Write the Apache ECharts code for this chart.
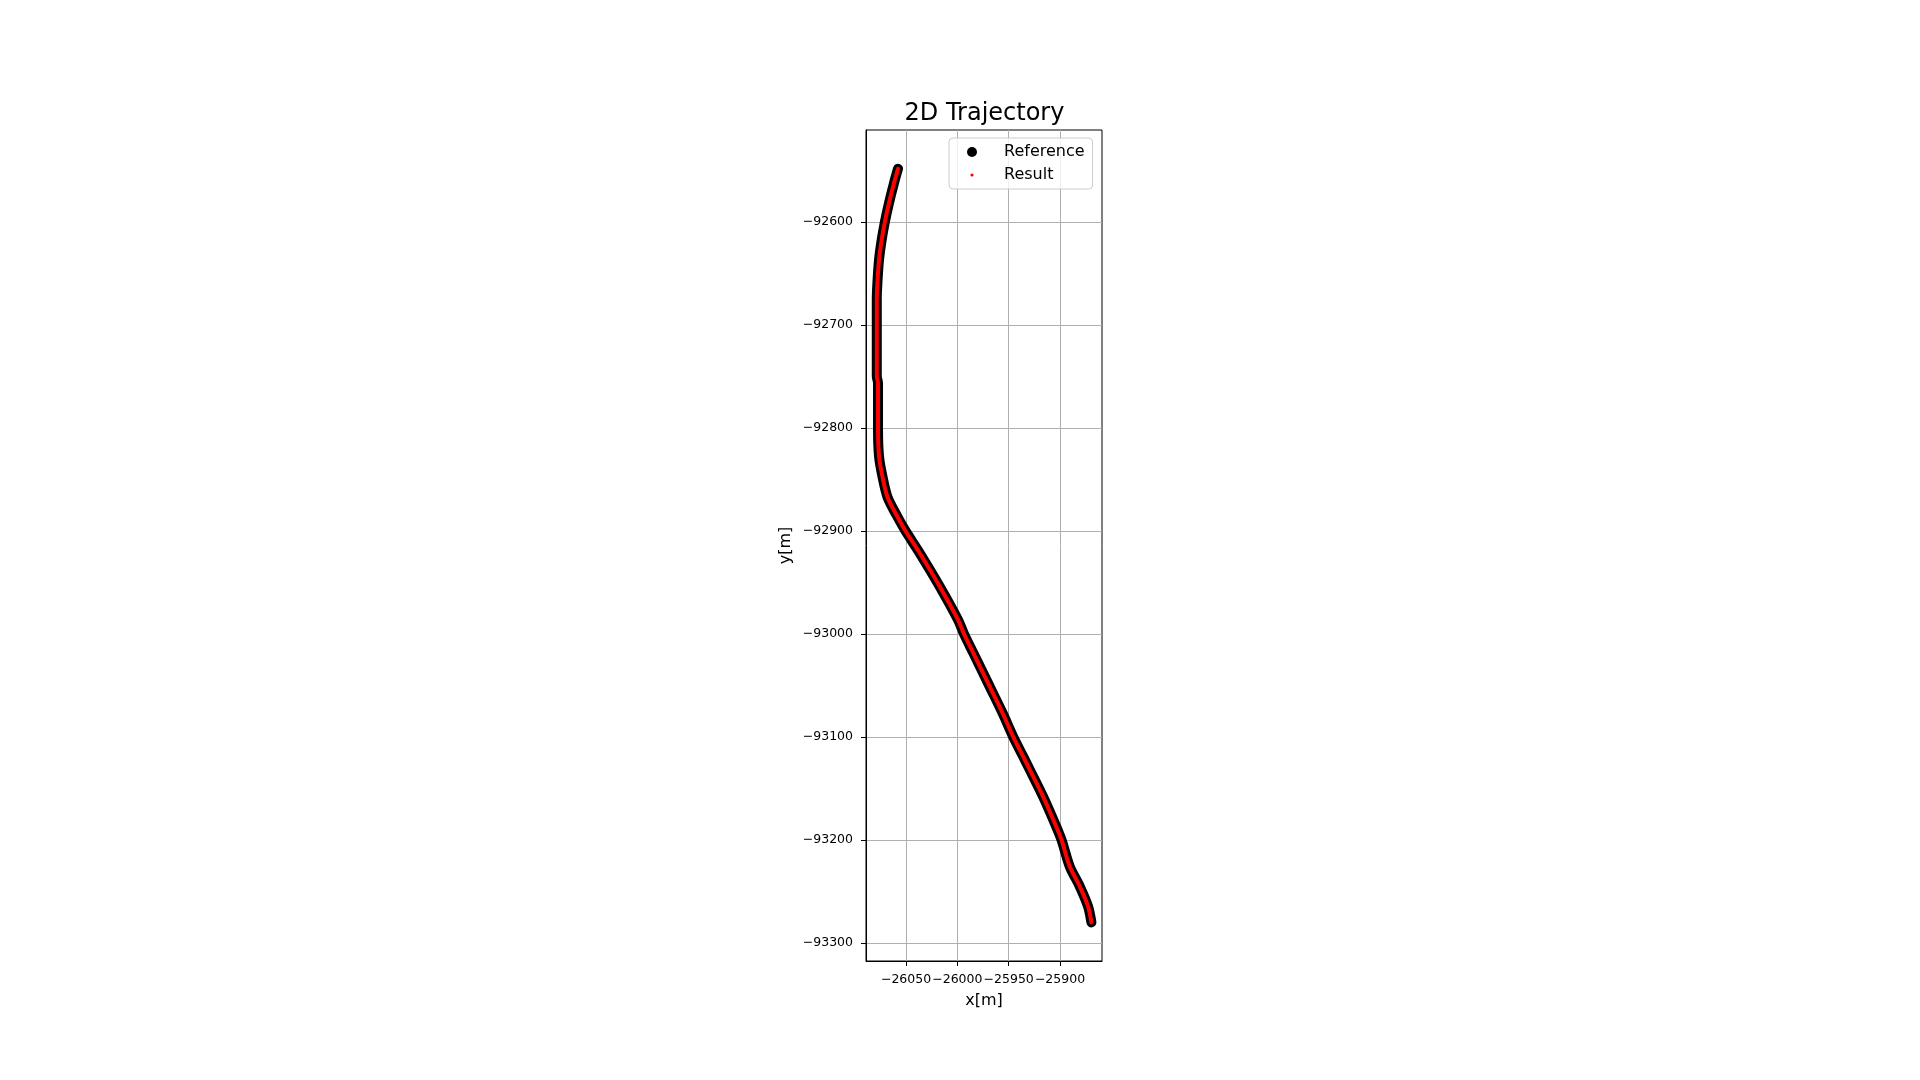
<!DOCTYPE html>
<html>
<head>
<meta charset="utf-8">
<script src="https://cdn.jsdelivr.net/npm/echarts@6/dist/echarts.min.js"></script>
<style>
html,body{margin:0;padding:0;background:#fff;}
#chart{width:1920px;height:1080px;}
</style>
</head>
<body>
<div id="chart"></div>
<script>
// Reference trajectory
const refX = [-26057.8,-26061.7,-26066.6,-26070.5,-26073.7,-26076.3,-26077.9,-26078.5,-26078.5,-26078.5,-26077.3,-26077.3,-26077.3,-26076.3,-26073.0,-26068.1,-26059.0,-26050.5,-26036.7,-26017.2,-25999.4,-25993.5,-25984.5,-25967.0,-25956.0,-25945.8,-25936.0,-25929.5,-25916.6,-25905.2,-25898.6,-25890.6,-25880.8,-25872.7,-25869.4];
const refY = [-92548.3,-92562.1,-92581.6,-92599.4,-92617.2,-92636.6,-92659.2,-92675.4,-92701.4,-92749.9,-92756.3,-92785.4,-92800.4,-92827.6,-92847.0,-92867.0,-92885.0,-92900.0,-92921.4,-92953.8,-92986.1,-93000.0,-93018.4,-93054.1,-93076.7,-93099.4,-93118.8,-93131.7,-93157.7,-93183.5,-93199.7,-93225.6,-93245.0,-93264.5,-93280.0];
// Result trajectory
const resX = [-26057.8,-26061.7,-26066.6,-26070.5,-26073.7,-26076.3,-26077.9,-26078.5,-26078.5,-26078.5,-26077.3,-26077.3,-26077.3,-26076.3,-26073.0,-26068.1,-26059.0,-26050.5,-26036.7,-26017.2,-25999.4,-25993.5,-25984.5,-25967.0,-25956.0,-25945.8,-25936.0,-25929.5,-25916.6,-25905.2,-25898.6,-25890.6,-25880.8,-25872.7,-25869.4];
const resY = [-92548.3,-92562.1,-92581.6,-92599.4,-92617.2,-92636.6,-92659.2,-92675.4,-92701.4,-92749.9,-92756.3,-92785.4,-92800.4,-92827.6,-92847.0,-92867.0,-92885.0,-92900.0,-92921.4,-92953.8,-92986.1,-93000.0,-93018.4,-93054.1,-93076.7,-93099.4,-93118.8,-93131.7,-93157.7,-93183.5,-93199.7,-93225.6,-93245.0,-93264.5,-93280.0];
const xTicks = [-26050,-26000,-25950,-25900];
const yTicks = [-93300,-93200,-93100,-93000,-92900,-92800,-92700,-92600];
const seriesNames = ['Reference','Result'];
const titleText = '2D Trajectory';
const xName = 'x[m]';
const yName = 'y[m]';

const FONT = 'DejaVu Sans';
const minusFmt = v => String(v).replace('-', '\u2212');
const refData = refX.map((x,i)=>[x, refY[i]]);
const resData = resX.map((x,i)=>[x, resY[i]]);

const chart = echarts.init(document.getElementById('chart'), null, {renderer:'canvas'});
chart.setOption({
  animation: false,
  backgroundColor: '#ffffff',
  textStyle: {fontFamily: FONT, color: '#000'},
  title: {
    text: titleText,
    left: 979.5,
    textAlign: 'center',
    top: 97,
    textStyle: {fontFamily: FONT, fontSize: 24, fontWeight: 'normal', color: '#000'}
  },
  legend: {
    orient: 'vertical',
    left: 949,
    top: 138,
    padding: [6, 8, 6, 18],
    itemGap: 7,
    itemWidth: 10,
    itemHeight: 10,
    backgroundColor: 'rgba(255,255,255,0.8)',
    borderColor: '#cccccc',
    borderWidth: 1,
    borderRadius: 4,
    itemStyle: {borderWidth: 0},
    textStyle: {fontFamily: FONT, fontSize: 16, lineHeight: 16, color: '#000', padding: [0, 0, 0, 22]},
    data: [
      {name: seriesNames[0], icon: 'circle'},
      {name: seriesNames[1], icon: 'path://M0 0 M10 10 M5 3.4 A1.6 1.6 0 1 1 5 6.6 A1.6 1.6 0 1 1 5 3.4 Z'}
    ]
  },
  grid: {
    left: 866, top: 130, width: 236, height: 831,
    show: true, borderColor: '#000', borderWidth: 1, backgroundColor: 'transparent',
    containLabel: false
  },
  xAxis: {
    type: 'value',
    min: -26089, max: -25859.1,
    name: xName,
    nameLocation: 'middle',
    nameGap: 32,
    nameTextStyle: {fontFamily: FONT, fontSize: 16, color: '#000'},
    axisLine: {show: true, onZero: false, lineStyle: {color: '#000', width: 1}},
    axisTick: {show: true, inside: false, length: 5, customValues: xTicks, lineStyle: {color: '#000', width: 1}},
    axisLabel: {show: true, customValues: xTicks, margin: 12, fontFamily: FONT, fontSize: 12.5, color: '#000', formatter: minusFmt},
    splitLine: {show: true, lineStyle: {color: '#b0b0b0', width: 1}}
  },
  yAxis: {
    type: 'value',
    min: -93317.5, max: -92510.7,
    name: yName,
    nameLocation: 'middle',
    nameRotate: 90,
    nameGap: 72,
    nameTextStyle: {fontFamily: FONT, fontSize: 16, color: '#000'},
    axisLine: {show: true, onZero: false, lineStyle: {color: '#000', width: 1}},
    axisTick: {show: true, inside: false, length: 5, customValues: yTicks, lineStyle: {color: '#000', width: 1}},
    axisLabel: {show: true, customValues: yTicks, margin: 13, fontFamily: FONT, fontSize: 12.5, color: '#000', formatter: minusFmt},
    splitLine: {show: true, lineStyle: {color: '#b0b0b0', width: 1}}
  },
  series: [
    {
      name: seriesNames[0],
      type: 'line',
      data: refData,
      showSymbol: false,
      symbol: 'circle',
      smooth: 0.3,
      color: '#000',
      itemStyle: {color: '#000'},
      lineStyle: {color: '#000', width: 10, cap: 'round', join: 'round'},
      z: 2
    },
    {
      name: seriesNames[1],
      type: 'line',
      data: resData,
      showSymbol: false,
      symbol: 'circle',
      smooth: 0.3,
      color: '#ff0000',
      itemStyle: {color: '#ff0000'},
      lineStyle: {color: '#ff0000', width: 4, cap: 'round', join: 'round'},
      z: 3
    }
  ]
});
</script>
</body>
</html>
